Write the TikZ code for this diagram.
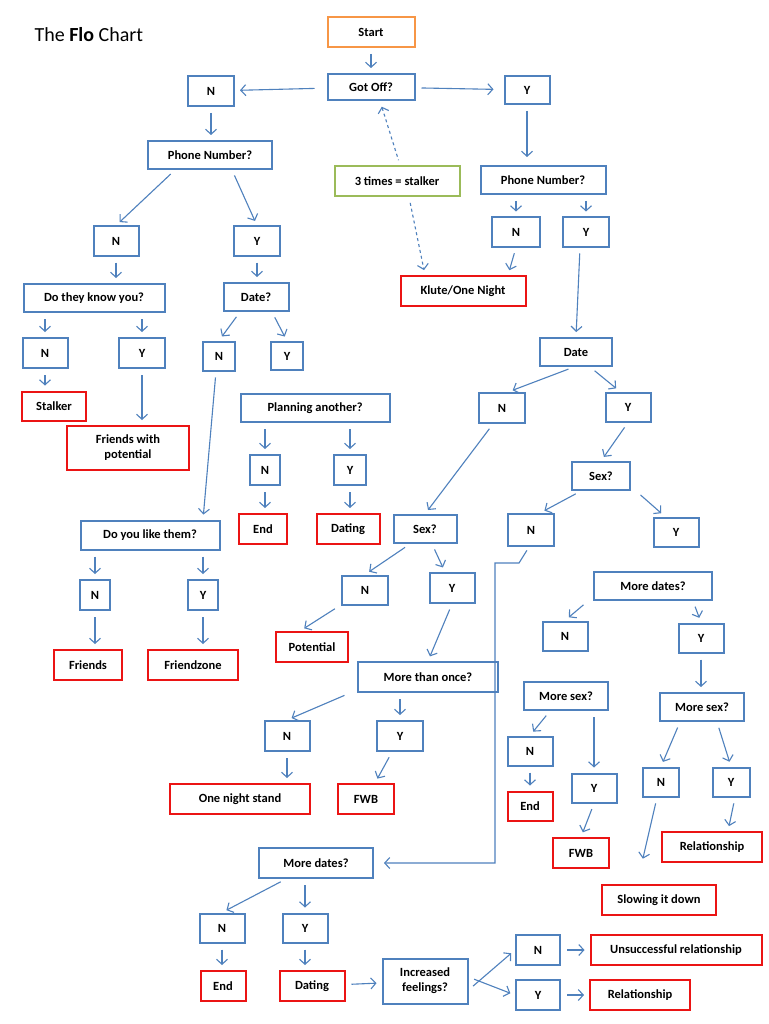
\documentclass[tikz,border=0pt]{standalone}
\usepackage{fontspec}
\setmainfont{Carlito}
\usetikzlibrary{arrows.meta,calc}
\definecolor{bl}{RGB}{79,129,189}
\definecolor{rd}{RGB}{235,20,20}
\definecolor{org}{RGB}{247,150,70}
\definecolor{grn}{RGB}{155,187,89}
\tikzset{
 bx/.style={draw=bl,line width=2pt,minimum height=28pt,inner sep=1pt,font=\fontsize{12.5}{15}\selectfont\bfseries,align=center},
 rbx/.style={bx,draw=rd},
 arr/.style={draw=bl,line width=1.1pt,-{Straight Barb[length=5pt,width=11pt]},shorten <=6pt,shorten >=5pt},
}
\begin{document}
\begin{tikzpicture}[x=1pt,y=-1pt]
\useasboundingbox[fill=white] (0,0) rectangle (768,1024);
\node[anchor=west,font=\fontsize{20}{22}\selectfont] (title) at (31,35) {The \textbf{Flo} Chart};
\node[bx,draw=org,minimum width=87pt,minimum height=30pt] (start) at (371,32) {Start};
\node[bx,minimum width=87pt,minimum height=26pt] (gotoff) at (371,87) {Got Off?};
\node[bx,minimum width=46pt,minimum height=30pt] (N1) at (211,91) {N};
\node[bx,minimum width=45pt] (Y1) at (527,90) {Y};
\node[bx,minimum width=124pt] (phone1) at (210,155) {Phone Number?};
\node[bx,draw=grn,minimum width=125pt,minimum height=30pt] (stalk3) at (397,181) {3 times = stalker};
\node[bx,minimum width=125pt] (phone2) at (543,180) {Phone Number?};
\node[bx,minimum width=45pt,minimum height=29pt] (N2) at (116,241) {N};
\node[bx,minimum width=46pt,minimum height=29pt] (Y2) at (257,241) {Y};
\node[bx,minimum width=48pt,minimum height=29pt] (N3) at (516,232) {N};
\node[bx,minimum width=46pt,minimum height=29pt] (Y3) at (586,232) {Y};
\node[rbx,minimum width=125pt,minimum height=30pt] (klute) at (463,291) {Klute/One Night};
\node[bx,minimum width=141pt] (know) at (94,298) {Do they know you?};
\node[bx,minimum width=65pt] (date1) at (256,297) {Date?};
\node[bx,minimum width=72pt] (date2) at (576,352) {Date};
\node[bx,minimum width=45pt,minimum height=30pt] (Nk) at (45,353) {N};
\node[bx,minimum width=46pt,minimum height=30pt] (Yk) at (142,353) {Y};
\node[bx,minimum width=32pt,minimum height=29pt] (Nd) at (219,356) {N};
\node[bx,minimum width=32pt,minimum height=28pt] (Yd) at (287,356) {Y};
\node[rbx,minimum width=64pt,minimum height=29pt] (stalker) at (54,406) {Stalker};
\node[bx,minimum width=149pt] (plan) at (315,408) {Planning another?};
\node[bx,minimum width=46pt,minimum height=30pt] (Nd2) at (502,408) {N};
\node[bx,minimum width=45pt,minimum height=29pt] (Yd2) at (628,407) {Y};
\node[rbx,minimum width=122pt,minimum height=44pt] (friendpot) at (128,448) {Friends with\\potential};
\node[bx,minimum width=30pt,minimum height=30pt] (Np) at (265,470) {N};
\node[bx,minimum width=32pt,minimum height=30pt] (Yp) at (350,470) {Y};
\node[bx,minimum width=58pt] (sex1) at (601,476) {Sex?};
\node[rbx,minimum width=48pt,minimum height=30pt] (end1) at (263,529) {End};
\node[rbx,minimum width=63pt,minimum height=30pt] (dating1) at (348,529) {Dating};
\node[bx,minimum width=63pt] (sexL) at (425,529) {Sex?};
\node[bx,minimum width=46pt,minimum height=32pt] (Ns1) at (531,530) {N};
\node[bx,minimum width=45pt,minimum height=29pt] (Ys1) at (676,532) {Y};
\node[bx,minimum width=139pt,minimum height=29pt] (like) at (150,535) {Do you like them?};
\node[bx,minimum width=46pt,minimum height=29pt] (Nsl) at (365,590) {N};
\node[bx,minimum width=45pt,minimum height=30pt] (Ysl) at (452,588) {Y};
\node[bx,minimum width=118pt] (md1) at (653,586) {More dates?};
\node[bx,minimum width=30pt,minimum height=30pt] (Nl) at (95,595) {N};
\node[bx,minimum width=30pt,minimum height=30pt] (Yl) at (203,595) {Y};
\node[bx,minimum width=45pt,minimum height=29pt] (Nmd) at (565,636) {N};
\node[bx,minimum width=45pt,minimum height=29pt] (Ymd) at (701,638) {Y};
\node[rbx,minimum width=72pt,minimum height=30pt] (potential) at (312,647) {Potential};
\node[rbx,minimum width=68pt,minimum height=30pt] (friends) at (88,665) {Friends};
\node[rbx,minimum width=90pt,minimum height=30pt] (fzone) at (193,665) {Friendzone};
\node[bx,minimum width=140pt,minimum height=30pt] (more) at (428,677) {More than once?};
\node[bx,minimum width=84pt] (ms1) at (566,696) {More sex?};
\node[bx,minimum width=84pt] (ms2) at (702,707) {More sex?};
\node[bx,minimum width=45pt,minimum height=30pt] (Nmt) at (287,736) {N};
\node[bx,minimum width=46pt,minimum height=30pt] (Ymt) at (400,736) {Y};
\node[bx,minimum width=45pt,minimum height=29pt] (Nms1) at (530,751) {N};
\node[bx,minimum width=45pt,minimum height=29pt] (Yms1) at (594,788) {Y};
\node[bx,minimum width=36pt,minimum height=29pt] (Nms2) at (661,782) {N};
\node[bx,minimum width=37pt,minimum height=29pt] (Yms2) at (731,782) {Y};
\node[rbx,minimum width=140pt,minimum height=30pt] (onenight) at (240,799) {One night stand};
\node[rbx,minimum width=56pt,minimum height=30pt] (fwb1) at (366,799) {FWB};
\node[rbx,minimum width=45pt,minimum height=29pt] (end2) at (530,806) {End};
\node[rbx,minimum width=56pt,minimum height=30pt] (fwb2) at (581,853) {FWB};
\node[rbx,minimum width=100pt,minimum height=30pt] (rel1) at (712,847) {Relationship};
\node[bx,minimum width=114pt,minimum height=30pt] (md2) at (316,863) {More dates?};
\node[rbx,minimum width=114pt,minimum height=30pt] (slow) at (659,900) {Slowing it down};
\node[bx,minimum width=45pt,minimum height=29pt] (Nmd2) at (222,928) {N};
\node[bx,minimum width=45pt,minimum height=29pt] (Ymd2) at (305,928) {Y};
\node[bx,minimum width=85pt,minimum height=45pt] (inc) at (425,981) {Increased\\feelings?};
\node[bx,minimum width=44pt,minimum height=30pt] (Nif) at (538,950) {N};
\node[bx,minimum width=44pt,minimum height=30pt] (Yif) at (538,995) {Y};
\node[rbx,minimum width=171pt,minimum height=30pt] (unsucc) at (676,950) {Unsuccessful relationship};
\node[rbx,minimum width=100pt,minimum height=30pt] (rel2) at (640,995) {Relationship};
\node[rbx,minimum width=45pt,minimum height=30pt] (end3) at (223,986) {End};
\node[rbx,minimum width=65pt,minimum height=30pt] (dating2) at (312,986) {Dating};
% connectors
\draw[arr] (start) -- (gotoff);
\draw[arr,shorten <=12pt] (gotoff) -- (N1);
\draw[arr,shorten >=10pt] (gotoff) -- (Y1);
\draw[arr] (N1) -- (N1 |- phone1.north);
\draw[arr,shorten >=8pt] (Y1) -- (Y1 |- phone2.north);
\draw[arr] ([xshift=-35pt]phone1.south) -- (N2.north);
\draw[arr] ([xshift=22pt]phone1.south) -- (Y2.north);
\draw[arr] (N3 |- phone2.south) -- (N3.north);
\draw[arr] (Y3 |- phone2.south) -- (Y3.north);
\draw[arr] (N3.south) -- ([xshift=45pt]klute.north);
\draw[arr] ([xshift=-6pt]Y3.south) -- (date2.north);
\draw[arr] (N2) -- (N2 |- know.north);
\draw[arr] (Y2) -- (Y2 |- date1.north);
\draw[arr] (Nk |- know.south) -- (Nk.north);
\draw[arr] (Yk |- know.south) -- (Yk.north);
\draw[arr] ([xshift=-16pt]date1.south) -- (Nd.north);
\draw[arr] ([xshift=16pt]date1.south) -- (Yd.north);
\draw[arr] (Nk) -- (Nk |- stalker.north);
\draw[arr] (Yk) -- (Yk |- friendpot.north);
\draw[arr] ([xshift=-3pt]Nd.south) -- ([xshift=53pt]like.north);
\draw[arr] ([xshift=-2pt]date2.south) -- ([xshift=6pt]Nd2.north);
\draw[arr] ([xshift=14pt]date2.south) -- ([xshift=-8pt]Yd2.north);
\draw[arr] (Np |- plan.south) -- (Np.north);
\draw[arr] (Yp |- plan.south) -- (Yp.north);
\draw[arr] (Np) -- (Np |- end1.north);
\draw[arr] (Yp) -- (Yp |- dating1.north);
\draw[arr] ([xshift=-9pt]Nd2.south) -- (sexL.north);
\draw[arr] (Yd2.south) -- (sex1.north);
\draw[arr] ([xshift=-20pt]sex1.south) -- ([xshift=9pt]Ns1.north);
\draw[arr] ([xshift=35pt]sex1.south) -- ([xshift=-11pt]Ys1.north);
\draw[arr] ([xshift=-15pt]sexL.south) -- (Nsl.north);
\draw[arr] ([xshift=7pt]sexL.south) -- ([xshift=-7pt]Ysl.north);
\draw[arr] (Nl |- like.south) -- (Nl.north);
\draw[arr] (Yl |- like.south) -- (Yl.north);
\draw[arr] (Nl) -- (Nl |- friends.north);
\draw[arr] (Yl) -- (Yl |- fzone.north);
\draw[arr] ([xshift=-65pt]md1.south) -- (Nmd.north);
\draw[arr] ([xshift=40pt]md1.south) -- (Ymd.north);
\draw[arr] ([xshift=-25pt]Nsl.south) -- ([xshift=-12pt]potential.north);
\draw[arr] (Ysl.south) -- (more.north);
\draw[arr] (Ymd) -- (Ymd |- ms2.north);
\draw[arr] ([xshift=-78pt]more.south) -- (Nmt.north);
\draw[arr] (Ymt |- more.south) -- (Ymt.north);
\draw[arr] ([xshift=-16pt]ms1.south) -- (Nms1.north);
\draw[arr] (Yms1 |- ms1.south) -- (Yms1.north);
\draw[arr] ([xshift=-22pt]ms2.south) -- (Nms2.north);
\draw[arr] ([xshift=15pt]ms2.south) -- (Yms2.north);
\draw[arr] (Nmt) -- (Nmt |- onenight.north);
\draw[arr] ([xshift=-8pt]Ymt.south) -- ([xshift=9pt]fwb1.north);
\draw[arr] (Nms1) -- (Nms1 |- end2.north);
\draw[arr] (Yms1.south) -- (fwb2.north);
\draw[arr] ([xshift=4pt]Yms2.south) -- ([xshift=16pt]rel1.north);
\draw[arr,shorten >=26pt] ([xshift=-4pt]Nms2.south) -- ([xshift=-22pt]slow.north);
\draw[arr] ([xshift=-30pt]md2.south) -- (Nmd2.north);
\draw[arr] (Ymd2 |- md2.south) -- (Ymd2.north);
\draw[arr] (Nmd2) -- (Nmd2 |- end3.north);
\draw[arr] (Ymd2) -- (Ymd2 |- dating2.north);
\draw[arr] (dating2) -- (inc);
\draw[arr] ([yshift=-9pt]inc.east) -- (Nif.west);
\draw[arr] ([yshift=4pt]inc.east) -- (Yif.west);
\draw[arr] (Nif) -- (unsucc);
\draw[arr] (Yif) -- (rel2);
\draw[arr,shorten <=4pt,shorten >=10pt] ([shift={(-2,0)}]Ns1.south) -- ++(-10,16) -- ++(-24,0) |- (md2.east);
\draw[arr,dashed,{Straight Barb[length=5pt,width=11pt]}-] ([xshift=9pt]gotoff.south) -- ([xshift=3pt]stalk3.north);
\draw[arr,dashed] ([xshift=12pt]stalk3.south) -- ([xshift=-38pt]klute.north);
\end{tikzpicture}
\end{document}
